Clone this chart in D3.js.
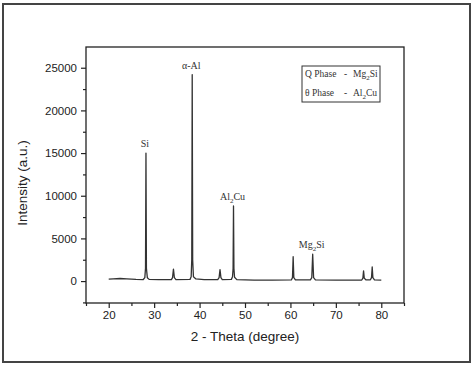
<!DOCTYPE html>
<html>
<head>
<meta charset="utf-8">
<script src="https://cdn.jsdelivr.net/npm/d3@7"></script>
<style>
  html, body { margin: 0; padding: 0; background: #fff; }
  svg { display: block; }
</style>
</head>
<body>
<div id="chart"></div>
<script>
// XRD pattern: [2-theta, intensity]
const pattern = [
  [20.0, 230], [21.0, 260], [22.5, 300], [24.0, 260], [26.0, 200], [27.6, 180],
  [27.95, 400], [28.1, 1500], [28.2, 15000], [28.3, 1500], [28.5, 400], [28.9, 200],
  [31.0, 170], [33.8, 170], [34.05, 400], [34.25, 1400], [34.45, 400], [34.8, 170],
  [37.9, 200], [38.15, 500], [38.28, 2500], [38.38, 24200], [38.48, 2500], [38.65, 500], [39.2, 250],
  [41.0, 180], [44.0, 170], [44.3, 400], [44.5, 1350], [44.7, 400], [45.0, 170],
  [47.0, 200], [47.25, 500], [47.38, 1500], [47.47, 8800], [47.56, 1500], [47.7, 450], [48.2, 170],
  [52.0, 120], [56.0, 110], [60.2, 130], [60.45, 400], [60.6, 2850], [60.75, 400], [61.1, 140],
  [64.4, 140], [64.7, 400], [64.9, 3150], [65.1, 400], [65.5, 140],
  [70.0, 120], [75.7, 120], [75.95, 350], [76.1, 1200], [76.25, 350], [76.6, 150],
  [77.6, 150], [77.85, 400], [78.0, 1650], [78.15, 400], [78.5, 130], [80.0, 110]
];

// peak labels: [2-theta, intensity, main text, subscript, rest]
const peakLabels = [
  [28.2, 15000, "Si", "", ""],
  [38.38, 24200, "\u03b1-Al", "", ""],
  [47.47, 8800, "Al", "2", "Cu"],
  [64.9, 3150, "Mg", "2", "Si"]
];

const legendRows = [
  ["Q Phase", "Mg", "2", "Si"],
  ["\u03b8 Phase", "Al", "2", "Cu"]
];

const xMajor = [20, 30, 40, 50, 60, 70, 80];
const xMinor = [15, 25, 35, 45, 55, 65, 75, 85];
const yMajor = [0, 5000, 10000, 15000, 20000, 25000];
const yMinor = [-2500, 2500, 7500, 12500, 17500, 22500, 27500];

const W = 474, H = 366;
const mLeft = 86, mRight = 404, mTop = 47, mBottom = 303;

const svg = d3.select("#chart").append("svg")
  .attr("width", W).attr("height", H)
  .style("font-family", "'Liberation Sans', Arial, sans-serif");

// outer border
svg.append("rect")
  .attr("x", 3).attr("y", 4).attr("width", 467).attr("height", 358)
  .attr("fill", "none").attr("stroke", "#444").attr("stroke-width", 2);

const x = d3.scaleLinear().domain([15, 85]).range([mLeft, mRight]);
const y = d3.scaleLinear().domain([-2570, 27430]).range([mBottom, mTop]);

// x axis
const gx = svg.append("g").attr("transform", `translate(0,${mBottom})`);
gx.append("g").call(d3.axisBottom(x).tickValues(xMinor).tickSize(3).tickFormat(""));
gx.append("g").call(d3.axisBottom(x).tickValues(xMajor).tickSize(5).tickPadding(3).tickFormat(d3.format("d")));
gx.selectAll(".domain").remove();

// y axis
const gy = svg.append("g").attr("transform", `translate(${mLeft},0)`);
gy.append("g").call(d3.axisLeft(y).tickValues(yMinor.filter(v => v <= 27430)).tickSize(3).tickFormat(""));
gy.append("g").call(d3.axisLeft(y).tickValues(yMajor).tickSize(5).tickPadding(4).tickFormat(d3.format("d")));
gy.selectAll(".domain").remove();

svg.selectAll(".tick line").attr("stroke", "#222").attr("stroke-width", 1.2);
svg.selectAll(".tick text")
  .attr("fill", "#222")
  .style("font-size", "11.5px")
  .style("font-family", "'Liberation Sans', Arial, sans-serif");

// frame
svg.append("rect")
  .attr("x", mLeft).attr("y", mTop)
  .attr("width", mRight - mLeft).attr("height", mBottom - mTop)
  .attr("fill", "none").attr("stroke", "#222").attr("stroke-width", 1.3);

// pattern line
const line = d3.line().x(d => x(d[0])).y(d => y(d[1]));
svg.append("path")
  .datum(pattern)
  .attr("d", line)
  .attr("fill", "none")
  .attr("stroke", "#333")
  .attr("stroke-width", 1.3)
  .attr("stroke-linejoin", "round");

// peak labels
const serif = "'Liberation Serif', 'Times New Roman', serif";
const labels = svg.selectAll("text.peak")
  .data(peakLabels)
  .join("text")
  .attr("class", "peak")
  .attr("x", d => x(d[0]) - 1)
  .attr("y", d => y(d[1]) - 6)
  .attr("text-anchor", "middle")
  .style("font-family", serif)
  .style("font-size", "10px")
  .attr("fill", "#333");
labels.each(function(d) {
  const t = d3.select(this);
  t.append("tspan").text(d[2]);
  if (d[3]) {
    t.append("tspan").attr("dy", 3).style("font-size", "7px").text(d[3]);
    t.append("tspan").attr("dy", -3).text(d[4]);
  }
});

// legend box
const lg = svg.append("g").attr("transform", "translate(302,66)");
lg.append("rect")
  .attr("width", 78).attr("height", 36)
  .attr("fill", "#fff").attr("stroke", "#333").attr("stroke-width", 1);
legendRows.forEach((r, i) => {
  const ty = 11 + i * 18.5;
  lg.append("text").attr("x", 3).attr("y", ty).attr("fill", "#333")
    .style("font-family", serif).style("font-size", "9.5px").text(r[0]);
  lg.append("text").attr("x", 42).attr("y", ty).attr("fill", "#333")
    .style("font-family", serif).style("font-size", "9.5px").text("-");
  const t = lg.append("text").attr("x", 51).attr("y", ty).attr("fill", "#333")
    .style("font-family", serif).style("font-size", "9.5px");
  t.append("tspan").text(r[1]);
  t.append("tspan").attr("dy", 3).style("font-size", "7px").text(r[2]);
  t.append("tspan").attr("dy", -3).text(r[3]);
});

// axis titles
svg.append("text")
  .attr("transform", "translate(27,183) rotate(-90)")
  .attr("text-anchor", "middle")
  .style("font-size", "13.5px")
  .attr("fill", "#222")
  .text("Intensity (a.u.)");

svg.append("text")
  .attr("x", 245).attr("y", 341)
  .attr("text-anchor", "middle")
  .style("font-size", "13.5px")
  .attr("fill", "#222")
  .text("2 - Theta (degree)");
</script>
</body>
</html>
